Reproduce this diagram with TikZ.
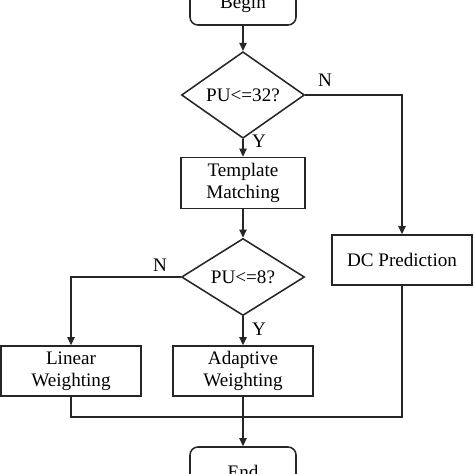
\documentclass[tikz,border=0pt]{standalone}
\usepackage{fontspec}
\setmainfont{Liberation Serif}
\usetikzlibrary{shapes.geometric}
\usetikzlibrary{arrows.meta}
\usetikzlibrary{calc}
\usetikzlibrary{math}

\colorlet{flowline}{black!85}

\tikzset{
  stepbox/.style={draw=flowline, rectangle, align=center, inner sep=0pt,
    minimum width=3.5cm, minimum height=1.25cm},
  termbox/.style={stepbox, rounded corners=0.2cm, minimum width=2.65cm},
  decision/.style={draw=flowline, diamond, inner sep=0pt,
    minimum width=3.075cm, minimum height=1.6cm},
  flow/.style={draw=flowline, -{Triangle[length=2mm,width=1.8mm]}},
  branch/.style={inner sep=0pt, font=\flowfont},
}

\newcommand{\flowfont}{\fontsize{13.6pt}{16pt}\selectfont}

\begin{document}
\begin{tikzpicture}[x=0.025cm, y=-0.025cm, line width=1.1pt, font=\flowfont]

  \tikzmath{
    \midx   = 243; % column of the main path
    \dcx    = 402; % column of the DC branch
    \linx   = 71;  % column of the linear branch
    \joiny  = 417; % height where the branches meet
  }

  \useasboundingbox (0,0) rectangle (474,474);

  % main column
  \node[termbox, minimum height=1.05cm]
                  (begin)    at (\midx, 4)   {Begin};
  \node[decision] (pu32)     at (\midx, 95)  {PU<=32?};
  \node[stepbox, minimum width=3.1cm, minimum height=1.275cm]
                  (template) at (\midx, 183) {Template\\Matching};
  \node[decision] (pu8)      at (\midx, 277) {PU<=8?};
  \node[stepbox]  (adaptive) at (\midx, 371) {Adaptive\\Weighting};
  \node[termbox]  (end)      at (\midx, 472) {End};

  % side branches
  \node[stepbox]  (linear)   at (\linx, 371) {Linear\\Weighting};
  \node[stepbox]  (dc)       at (\dcx, 260)  {DC Prediction};

  \coordinate (join) at (\midx, \joiny);

  % yes path
  \draw[flow] (begin) -- (pu32);
  \draw[flow] (pu32) -- (template);
  \draw[flow] (template) -- (pu8);
  \draw[flow] (pu8) -- (adaptive);
  \draw[flow] (adaptive) -- (end);

  % no paths
  \draw[flow] (pu32.east) -| (dc.north);
  \draw[flow] (pu8.west) -| (linear.north);

  % branches meet again
  \draw[flowline] (linear.south) |- (join) -| (dc.south);

  % branch labels
  \node[branch] (n32) at (325, 80)  {N};
  \node[branch] (y32) at (259, 141) {Y};
  \node[branch] (n8)  at (160, 265) {N};
  \node[branch] (y8)  at (259, 329) {Y};

\end{tikzpicture}
\end{document}
